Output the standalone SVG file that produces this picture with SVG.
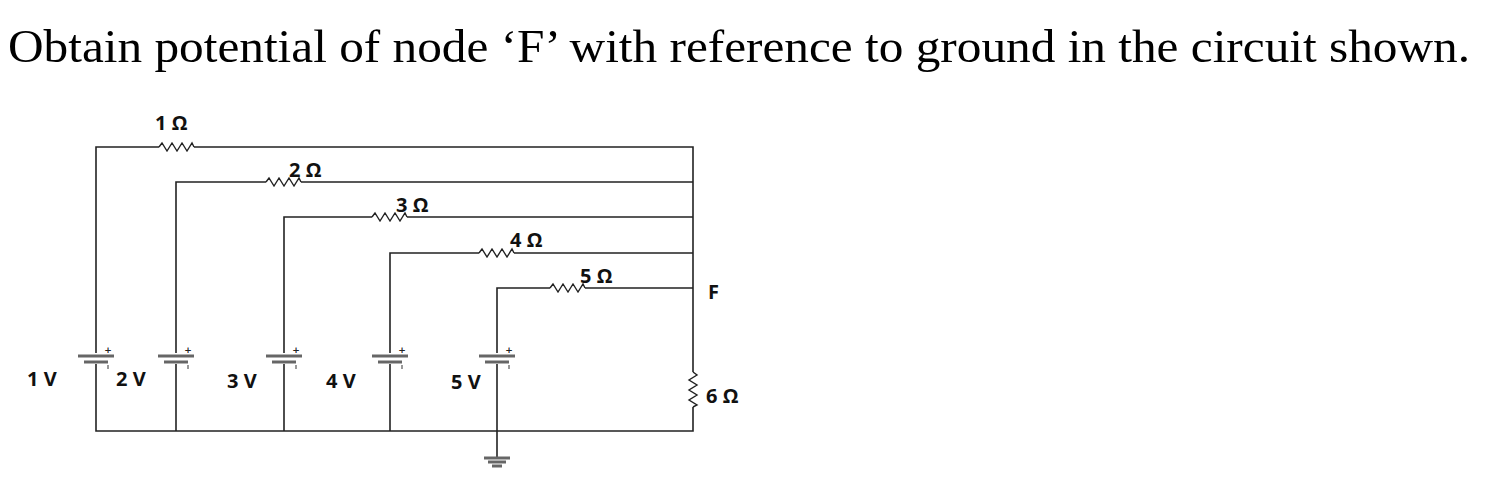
<svg xmlns="http://www.w3.org/2000/svg" width="1512" height="494" viewBox="0 0 1512 494">
<style>
.w{fill:none;stroke:#222;stroke-width:1.6}
.r{fill:none;stroke:#222;stroke-width:1.4}
.lp{stroke:#666;stroke-width:3}
.t{font-family:"Open Sans","DejaVu Sans",sans-serif;font-weight:bold;font-size:20px;fill:#111}
.ti{font-family:"Liberation Serif",serif;font-size:47px;fill:#000}
</style>
<defs>
<g id="bat">
<line class="lp" x1="-18" y1="-4" x2="18" y2="-4"/>
<line class="lp" x1="-12" y1="2" x2="12" y2="2"/>
<text x="12" y="-7" font-size="9" font-weight="bold" font-family="DejaVu Sans" text-anchor="middle" fill="#222">+</text>
<line stroke="#555" stroke-width="1.2" x1="12" y1="5" x2="12" y2="9"/>
</g>
<path id="rh" class="r" d="M0 0 l3 -4 l5 8 l5 -8 l5 8 l5 -8 l5 8 l5 -8 l2 4"/>
</defs>
<text class="ti" x="8" y="62" textLength="1462" lengthAdjust="spacingAndGlyphs">Obtain potential of node ‘F’ with reference to ground in the circuit shown.</text>
<g id="connectors">
<path class="w" d="M96 353 V147 H159 M194 147 H693 V372 M693 407 V431 H96 V364"/>
<path class="w" d="M176 353 V182 H266 M301 182 H693 M176 364 V431"/>
<path class="w" d="M284 353 V217 H372 M407 217 H693 M284 364 V431"/>
<path class="w" d="M390 353 V253 H479 M514 253 H693 M390 364 V431"/>
<path class="w" d="M497 353 V288 H550 M585 288 H693 M497 364 V458"/>
</g>
<g id="R1"><use href="#rh" x="159" y="147"/><text class="t" x="155" y="130">1 Ω</text></g>
<g id="R2"><use href="#rh" x="266" y="182"/><text class="t" x="289" y="177">2 Ω</text></g>
<g id="R3"><use href="#rh" x="372" y="217"/><text class="t" x="396" y="212">3 Ω</text></g>
<g id="R4"><use href="#rh" x="479" y="253"/><text class="t" x="510" y="247">4 Ω</text></g>
<g id="R5"><use href="#rh" x="550" y="288"/><text class="t" x="580" y="283">5 Ω</text></g>
<g id="R6"><use href="#rh" transform="translate(693 372) rotate(90)"/><text class="t" x="706" y="403">6 Ω</text></g>
<g id="F"><text class="t" x="708" y="299">F</text></g>
<g id="B1"><use href="#bat" x="96" y="360"/><text class="t" x="27" y="386">1 V</text></g>
<g id="B2"><use href="#bat" x="176" y="360"/><text class="t" x="116" y="386">2 V</text></g>
<g id="B3"><use href="#bat" x="284" y="360"/><text class="t" x="227" y="388">3 V</text></g>
<g id="B4"><use href="#bat" x="390" y="360"/><text class="t" x="326" y="388">4 V</text></g>
<g id="B5"><use href="#bat" x="497" y="360"/><text class="t" x="451" y="389">5 V</text></g>
<g id="GND">
<line class="lp" x1="484" y1="458" x2="510" y2="458" stroke-width="2.5"/>
<line class="lp" x1="488" y1="462" x2="506" y2="462" stroke-width="2.5"/>
<line class="lp" x1="492" y1="466" x2="502" y2="466" stroke-width="2.5"/>
</g>
</svg>
